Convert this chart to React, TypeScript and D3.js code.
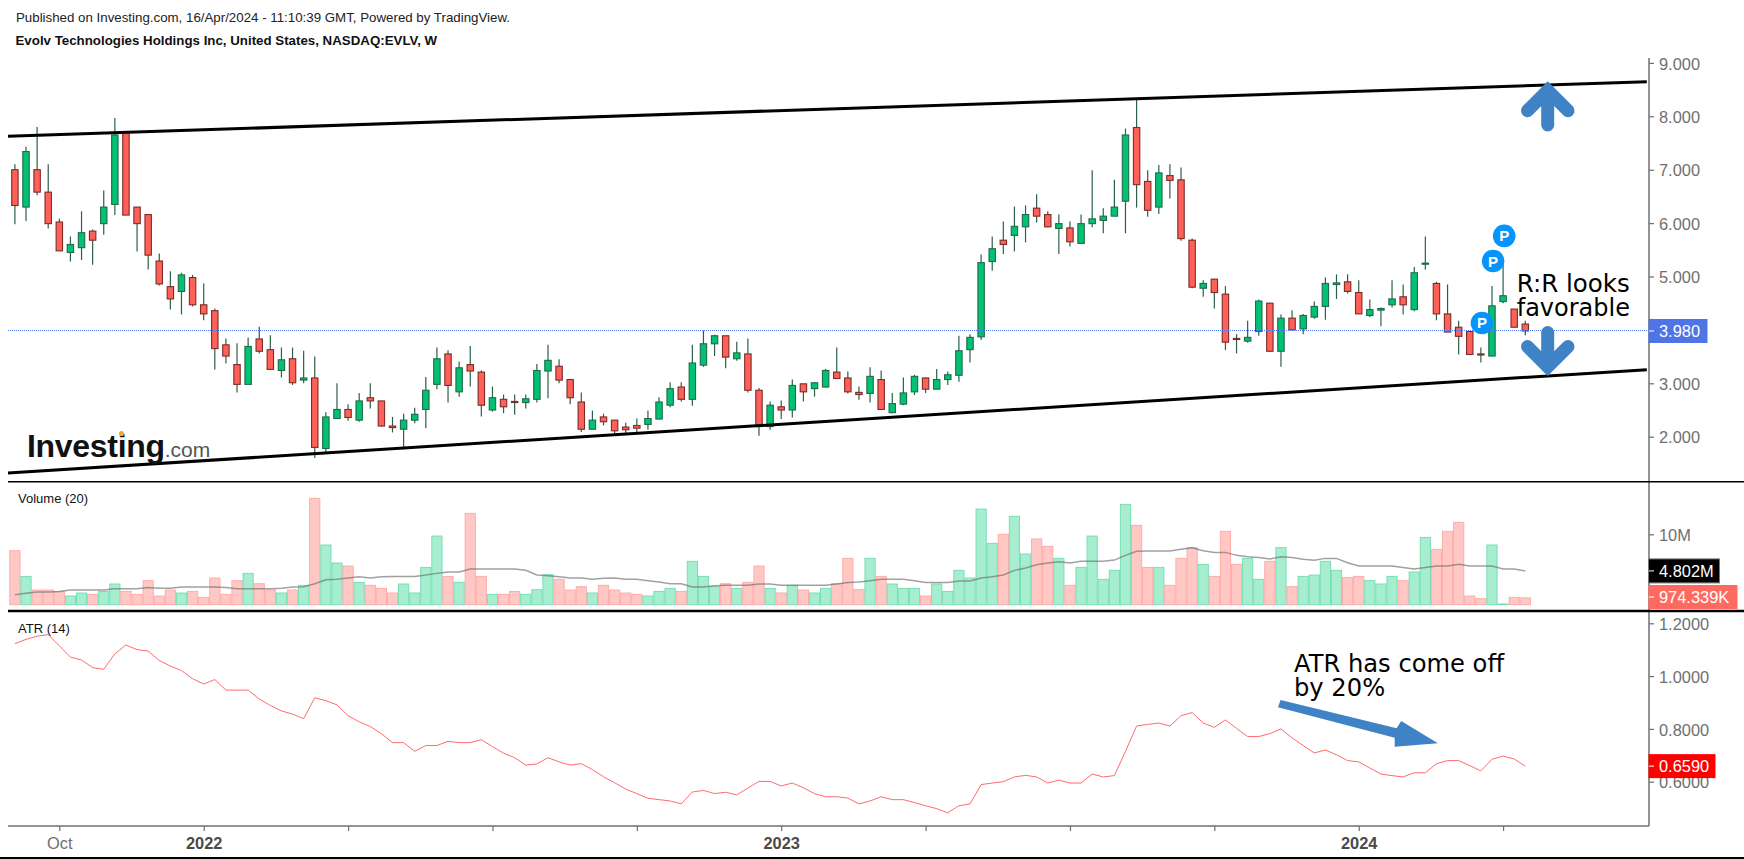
import * as d3 from "d3";
import { useEffect, useRef } from "react";

const opens = [
    7.00,6.30,7.00,6.58,6.02,5.45,5.54,5.85,5.99,6.35,
    7.71,6.30,6.16,5.29,4.81,4.72,4.98,4.47,4.36,3.72,
    3.35,2.98,3.83,3.63,3.24,3.46,3.06,3.10,1.78,2.34,
    2.51,2.31,2.73,2.67,2.20,2.14,2.31,2.51,2.98,3.55,
    2.84,3.35,3.21,2.50,2.70,2.66,2.64,2.70,3.23,3.32,
    3.07,2.65,2.14,2.37,2.31,2.18,2.21,2.23,2.33,2.59,
    2.93,2.70,3.34,3.74,3.89,3.46,3.55,2.87,2.19,2.56,
    2.50,2.99,2.90,2.93,3.21,3.10,2.83,2.81,3.07,2.45,
    2.61,2.84,3.10,2.89,3.07,3.15,3.63,3.87,5.28,5.68,
    5.77,5.93,6.28,6.16,5.90,5.91,5.62,5.99,6.05,6.13,
    6.41,7.79,6.78,6.30,6.89,6.81,5.68,4.78,4.95,4.67,
    3.84,3.79,3.97,4.50,3.60,4.22,4.02,4.24,4.44,4.85,
    4.90,4.70,4.27,4.37,4.47,4.62,4.38,5.23,4.87,4.30,
    4.05,3.97,3.55,3.51,4.53,4.39,4.11,
];
const closes = [
    6.33,7.34,6.58,5.99,5.48,5.60,5.82,5.68,6.30,7.65,
    6.15,5.99,5.40,4.86,4.58,5.03,4.47,4.30,3.65,3.51,
    2.98,3.69,3.60,3.26,3.44,3.01,3.10,1.80,2.37,2.51,
    2.36,2.67,2.67,2.20,2.17,2.31,2.42,2.87,3.46,2.96,
    3.29,3.23,2.59,2.73,2.56,2.64,2.71,3.24,3.43,3.06,
    2.73,2.14,2.31,2.28,2.11,2.13,2.16,2.34,2.65,2.90,
    2.70,3.38,3.74,3.89,3.49,3.57,2.87,2.19,2.59,2.50,
    2.96,2.84,3.01,3.24,3.09,2.84,2.79,3.13,2.51,2.62,
    2.82,3.13,2.89,3.07,3.16,3.61,3.86,5.26,5.52,5.60,
    5.94,6.16,6.13,5.93,5.99,5.65,5.99,6.08,6.13,6.30,
    7.65,6.72,6.24,6.94,6.80,5.71,4.80,4.87,4.70,3.77,
    3.82,3.86,4.54,3.60,4.22,4.00,4.27,4.44,4.87,4.88,
    4.72,4.30,4.38,4.40,4.58,4.47,5.07,5.25,4.30,3.96,
    3.88,3.54,3.53,4.45,4.64,4.05,3.98,
];
const highs = [
    7.10,7.43,7.80,7.10,6.08,5.75,6.22,5.88,6.61,7.97,
    7.71,6.30,6.16,5.43,5.10,5.07,5.03,4.87,4.40,3.84,
    3.75,3.86,4.06,3.90,3.67,3.67,3.61,3.50,2.46,3.00,
    2.61,2.82,3.00,2.67,2.37,2.43,2.54,3.12,3.67,3.62,
    3.41,3.70,3.24,2.94,2.79,2.79,2.79,3.36,3.72,3.45,
    3.07,2.83,2.49,2.43,2.31,2.26,2.34,2.49,2.74,3.02,
    3.02,3.72,3.99,3.91,3.89,3.78,3.84,2.91,2.66,2.68,
    3.07,2.99,3.02,3.27,3.67,3.22,2.94,3.30,3.24,2.82,
    3.11,3.16,3.11,3.27,3.22,3.89,3.92,5.41,5.75,6.03,
    6.31,6.33,6.54,6.22,6.16,6.03,6.16,6.99,6.28,6.81,
    7.77,8.31,6.99,7.09,7.10,7.04,5.71,4.93,4.96,4.82,
    3.92,4.17,4.57,4.51,4.29,4.37,4.30,4.53,4.98,5.04,
    5.04,4.93,4.57,4.42,4.93,4.85,5.18,5.75,4.90,4.85,
    4.17,3.97,3.67,4.82,5.30,4.39,4.17,
];
const lows = [
    5.98,6.04,6.52,5.90,5.48,5.28,5.31,5.22,5.78,6.15,
    6.15,5.47,5.13,4.83,4.38,4.29,4.44,4.18,3.26,3.37,
    2.83,2.98,3.56,3.26,3.11,2.97,3.00,1.60,1.69,2.33,
    2.30,2.28,2.53,2.19,2.08,1.76,2.25,2.16,2.89,2.64,
    2.75,2.94,2.38,2.47,2.44,2.41,2.53,2.64,2.72,3.00,
    2.61,2.09,2.14,2.21,2.04,2.03,2.04,2.13,2.33,2.55,
    2.66,2.58,3.31,3.51,3.28,3.42,2.83,2.02,2.13,2.33,
    2.36,2.66,2.75,2.92,3.08,2.81,2.69,2.64,2.50,2.44,
    2.59,2.78,2.82,2.89,2.97,3.03,3.39,3.81,5.11,5.42,
    5.47,5.64,6.01,5.92,5.42,5.56,5.62,5.92,5.81,6.13,
    5.81,6.29,6.12,6.17,6.46,5.67,4.78,4.62,4.40,3.62,
    3.56,3.76,3.89,3.60,3.31,4.00,3.92,4.21,4.19,4.58,
    4.68,4.30,4.24,4.07,4.42,4.29,4.35,5.13,4.18,3.96,
    3.54,3.53,3.39,3.51,4.50,4.05,3.90,
];
// volume in millions
const volumes = [
    7.67,4.02,2.08,2.08,1.85,1.23,1.66,1.47,1.89,2.94,
    1.89,1.47,3.41,1.23,2.08,1.66,1.89,1.04,3.79,1.47,
    3.41,4.45,2.98,2.08,1.66,2.08,2.75,15.10,8.48,5.92,
    5.49,3.17,2.75,2.32,1.66,2.94,1.66,5.30,9.75,4.02,
    3.17,12.97,4.02,1.47,1.47,1.89,1.47,2.13,4.26,3.60,
    2.08,2.56,1.66,2.75,2.08,1.66,1.47,1.23,1.89,2.32,
    1.89,6.16,4.02,2.56,2.98,2.32,3.17,5.49,2.32,1.66,
    2.75,2.08,1.66,2.32,2.98,6.58,2.13,6.58,4.02,2.94,
    2.32,2.32,1.23,2.94,1.89,4.88,3.79,13.59,8.71,9.99,
    12.55,7.20,9.33,8.29,6.58,2.75,5.30,9.75,3.60,4.88,
    14.25,11.27,5.30,5.30,2.75,6.58,8.10,5.73,4.02,10.42,
    5.73,6.58,3.60,6.16,8.10,2.56,4.02,4.21,6.16,4.88,
    3.84,4.02,3.41,2.94,4.02,3.41,4.64,9.56,7.86,10.42,
    11.69,1.23,0.85,8.48,0.10,1.04,0.97,
];
const volumeMa = [
    1.42,1.61,1.80,1.80,1.89,2.08,2.08,2.08,2.08,2.27,
    2.27,2.27,2.46,2.32,2.32,2.51,2.51,2.51,2.51,2.46,
    2.27,2.27,2.27,2.27,2.32,2.51,2.56,2.98,3.55,3.60,
    3.79,3.98,3.79,3.98,4.02,4.02,4.02,4.21,4.45,4.64,
    4.64,5.07,5.07,5.07,5.07,5.07,4.88,4.21,4.12,3.98,
    3.79,3.79,3.60,3.74,3.79,3.60,3.60,3.41,3.22,2.98,
    2.98,2.51,2.51,2.70,2.75,2.75,2.75,2.94,2.94,2.75,
    2.75,2.75,2.75,2.75,2.94,3.17,3.22,3.41,3.60,3.60,
    3.60,3.41,3.17,3.17,3.17,3.36,3.36,3.79,3.98,4.21,
    4.88,5.21,5.68,5.92,6.11,5.92,6.16,6.16,6.16,6.34,
    7.01,7.58,7.62,7.62,7.62,7.86,8.10,7.67,7.43,7.43,
    7.01,6.82,6.72,6.49,6.82,6.72,6.44,6.30,6.58,6.58,
    5.97,5.49,5.49,5.49,5.49,5.30,5.07,5.30,5.49,5.49,
    5.73,5.49,5.49,5.49,5.07,5.07,4.80,
];
const atr = [
    1.123,1.139,1.151,1.157,1.115,1.072,1.061,1.032,1.026,1.084,
    1.118,1.100,1.095,1.059,1.038,1.021,0.990,0.970,0.987,0.947,
    0.947,0.947,0.913,0.889,0.868,0.856,0.839,0.918,0.907,0.891,
    0.850,0.827,0.809,0.782,0.748,0.748,0.715,0.737,0.737,0.753,
    0.748,0.748,0.759,0.733,0.708,0.691,0.663,0.667,0.691,0.675,
    0.663,0.668,0.646,0.619,0.596,0.572,0.555,0.537,0.532,0.527,
    0.516,0.561,0.567,0.555,0.560,0.550,0.576,0.601,0.601,0.584,
    0.595,0.577,0.555,0.543,0.543,0.538,0.516,0.527,0.543,0.532,
    0.532,0.521,0.509,0.498,0.482,0.509,0.516,0.589,0.595,0.600,
    0.618,0.624,0.618,0.595,0.606,0.595,0.595,0.629,0.618,0.623,
    0.715,0.811,0.817,0.822,0.811,0.850,0.862,0.822,0.806,0.834,
    0.802,0.771,0.771,0.782,0.800,0.766,0.737,0.709,0.720,0.702,
    0.680,0.675,0.652,0.629,0.623,0.618,0.634,0.634,0.668,0.680,
    0.680,0.661,0.641,0.685,0.697,0.686,0.659,
];

const priceTicks = [2, 3, 5, 6, 7, 8, 9];
const volumeTicks = [10];
const atrTicks = [0.6, 0.8, 1.0, 1.2];
const timeTicks = [4, 17, 30, 43, 56, 69, 82, 95, 108, 121, 134];
const timeLabels = ["Oct", "2022", "", "", "", "2023", "", "", "", "2024", ""];

// channel drawn on the chart: [bar index, price]
const channelUpper = [[-0.62, 7.625], [146.94, 8.648]];
const channelLower = [[-0.62, 1.32], [146.94, 3.255]];

const lastPrice = 3.98;
const lastVolume = "974.339K";
const lastVolumeMa = "4.802M";
const lastAtr = "0.6590";

// "P" event markers: [bar index, price]
const markers = [[132.1, 4.13], [133.1, 5.29], [134.1, 5.76]];

const SANS = "'Liberation Sans', Arial, sans-serif";
const NOTE = "'DejaVu Sans', Verdana, sans-serif";
const AXIS_X = 1649;

function drawChart(el: SVGSVGElement) {
    const svg = d3.select(el);
    svg.selectAll("*").remove();

    const x = d3.scaleLinear().domain([0, 136]).range([14.9, 1525.3]);
    const y = d3.scaleLinear().domain([2, 9]).range([436.7, 62.9]);
    const vy = d3.scaleLinear().domain([0, 10]).range([604.7, 534.3]);
    const ay = d3.scaleLinear().domain([0.6, 1.2]).range([781.7, 623.3]);

    const bars = d3.range(opens.length);
    const isDown = (i: number) => closes[i] < opens[i];

    // volume pane
    svg.append("g")
        .selectAll("rect")
        .data(bars)
        .join("rect")
        .attr("x", (i) => x(i) - 5.1)
        .attr("width", 10.2)
        .attr("y", (i) => vy(volumes[i]))
        .attr("height", (i) => vy(0) - vy(volumes[i]))
        .attr("fill", (i) => (isDown(i) ? "#ffc8c5" : "#a6eecf"))
        .attr("stroke", (i) => (isDown(i) ? "#ffaca8" : "#78dfb5"))
        .attr("stroke-width", 1);

    svg.append("path")
        .attr(
            "d",
            d3
                .line<number>()
                .x((i) => x(i))
                .y((i) => vy(volumeMa[i]))(bars)
        )
        .attr("fill", "none")
        .attr("stroke", "#6e6e6e")
        .attr("stroke-opacity", 0.65)
        .attr("stroke-width", 1.5);

    // candles
    svg.append("g")
        .selectAll("line")
        .data(bars)
        .join("line")
        .attr("x1", (i) => x(i))
        .attr("x2", (i) => x(i))
        .attr("y1", (i) => y(highs[i]))
        .attr("y2", (i) => y(lows[i]))
        .attr("stroke", "#2b5f49")
        .attr("stroke-width", 1.2);

    svg.append("g")
        .selectAll("rect")
        .data(bars)
        .join("rect")
        .attr("x", (i) => x(i) - 3.2)
        .attr("width", 6.4)
        .attr("y", (i) => y(Math.max(opens[i], closes[i])))
        .attr("height", (i) =>
            Math.max(0.6, Math.abs(y(opens[i]) - y(closes[i])))
        )
        .attr("fill", (i) => (isDown(i) ? "#ff6159" : "#00c272"))
        .attr("stroke", (i) => (isDown(i) ? "#7c2b27" : "#1f6a4a"))
        .attr("stroke-width", 1.1);

    // last price line
    const lastY = Math.floor(y(lastPrice)) + 0.5;
    svg.append("line")
        .attr("x1", 8)
        .attr("x2", AXIS_X)
        .attr("y1", lastY)
        .attr("y2", lastY)
        .attr("stroke", "#4d73e8")
        .attr("stroke-width", 1)
        .attr("stroke-dasharray", "1 1");

    // channel
    [channelUpper, channelLower].forEach((c) => {
        svg.append("line")
            .attr("x1", x(c[0][0]))
            .attr("y1", y(c[0][1]))
            .attr("x2", x(c[1][0]))
            .attr("y2", y(c[1][1]))
            .attr("stroke", "#000")
            .attr("stroke-width", 3);
    });

    // ATR pane
    svg.append("path")
        .attr(
            "d",
            d3
                .line<number>()
                .x((i) => x(i))
                .y((i) => ay(atr[i]))(bars)
        )
        .attr("fill", "none")
        .attr("stroke", "#ff6b6f")
        .attr("stroke-width", 1);

    // event markers
    const mark = svg
        .append("g")
        .selectAll("g")
        .data(markers)
        .join("g")
        .attr("transform", (d) => `translate(${x(d[0])},${y(d[1])})`);
    mark.append("circle").attr("r", 11.3).attr("fill", "#0494fb");
    mark.append("text")
        .attr("text-anchor", "middle")
        .attr("y", 5.5)
        .style("font-family", SANS)
        .style("font-size", "15px")
        .style("font-weight", "bold")
        .style("fill", "#fff")
        .text("P");

    // arrows
    const blue = "#3f82c6";
    svg.append("path")
        .attr("d", "M1527.5 110.7 L1547.7 90.5 L1568 110.7 M1547.7 90.5 L1547.7 125")
        .attr("fill", "none")
        .attr("stroke", blue)
        .attr("stroke-width", 13)
        .attr("stroke-linecap", "round");
    svg.append("path")
        .attr("d", "M1527.5 346.6 L1547.7 366.8 L1568 346.6 M1547.7 366.8 L1547.7 332.5")
        .attr("fill", "none")
        .attr("stroke", blue)
        .attr("stroke-width", 13)
        .attr("stroke-linecap", "round");
    svg.append("path")
        .attr(
            "d",
            "M1280.6 700 L1396.6 728.3 L1401.2 721 L1437.9 743.3 L1394.7 746.7 L1394.7 737.7 L1278 707.3 Z"
        )
        .attr("fill", blue);

    // frame lines
    const lineColor = "#6f6f6f";
    svg.append("line")
        .attr("x1", AXIS_X)
        .attr("x2", AXIS_X)
        .attr("y1", 58)
        .attr("y2", 826)
        .attr("stroke", lineColor)
        .attr("stroke-width", 1.5);
    svg.append("line")
        .attr("x1", 8)
        .attr("x2", AXIS_X)
        .attr("y1", 826)
        .attr("y2", 826)
        .attr("stroke", lineColor)
        .attr("stroke-width", 1.5);
    svg.append("line")
        .attr("x1", 8)
        .attr("x2", 1744)
        .attr("y1", 481.7)
        .attr("y2", 481.7)
        .attr("stroke", "#000")
        .attr("stroke-width", 1.5);
    svg.append("line")
        .attr("x1", 8)
        .attr("x2", 1744)
        .attr("y1", 611)
        .attr("y2", 611)
        .attr("stroke", "#000")
        .attr("stroke-width", 2.5);
    svg.append("rect")
        .attr("x", 0)
        .attr("y", 857)
        .attr("width", 1744)
        .attr("height", 2)
        .attr("fill", "#000");

    // axes
    const styleAxis = (g: any) => {
        g.select(".domain").remove();
        g.selectAll("line").attr("stroke", lineColor).attr("stroke-width", 1.2);
        g.selectAll("text")
            .style("font-family", SANS)
            .style("font-size", "16.4px")
            .style("fill", "#6f6f6f");
    };
    const nudge = (g: any) => g.selectAll("text").attr("dy", "0.38em");

    svg.append("g")
        .attr("transform", `translate(${AXIS_X},0)`)
        .call(
            d3
                .axisRight(y)
                .tickValues(priceTicks)
                .tickSize(5)
                .tickPadding(5)
                .tickFormat(d3.format(".3f") as any)
        )
        .call(styleAxis)
        .call(nudge);
    svg.append("g")
        .attr("transform", `translate(${AXIS_X},0)`)
        .call(
            d3
                .axisRight(vy)
                .tickValues(volumeTicks)
                .tickSize(5)
                .tickPadding(5)
                .tickFormat((d) => `${d}M`)
        )
        .call(styleAxis)
        .call(nudge);
    svg.append("g")
        .attr("transform", `translate(${AXIS_X},0)`)
        .call(
            d3
                .axisRight(ay)
                .tickValues(atrTicks)
                .tickSize(5)
                .tickPadding(5)
                .tickFormat(d3.format(".4f") as any)
        )
        .call(styleAxis)
        .call(nudge);

    const timeAxis = svg
        .append("g")
        .attr("transform", "translate(0,826)")
        .call(
            d3
                .axisBottom(x)
                .tickValues(timeTicks)
                .tickSize(5)
                .tickPadding(6)
                .tickFormat((_, i) => timeLabels[i])
        )
        .call(styleAxis);
    timeAxis
        .selectAll("text")
        .style("font-weight", (_, i) => (i === 0 ? "normal" : "bold"))
        .style("fill", (_, i) => (i === 0 ? "#6f6f6f" : "#4a4a4a"));

    // value labels on the axis
    const tag = (
        value: number,
        text: string,
        fill: string,
        width: number,
        stroke?: string
    ) => {
        svg.append("rect")
            .attr("x", AXIS_X - 0.5)
            .attr("y", value - 12)
            .attr("width", width)
            .attr("height", 24)
            .attr("fill", fill)
            .attr("stroke", stroke || "none");
        svg.append("line")
            .attr("x1", AXIS_X)
            .attr("x2", AXIS_X + 5)
            .attr("y1", value)
            .attr("y2", value)
            .attr("stroke", "#fff")
            .attr("stroke-width", 1);
        svg.append("text")
            .attr("x", AXIS_X + 10)
            .attr("y", value + 6)
            .style("font-family", SANS)
            .style("font-size", "16.4px")
            .style("fill", "#fff")
            .text(text);
    };
    tag(y(lastPrice), lastPrice.toFixed(3), "#4f74e6", 59);
    tag(vy(volumeMa[volumeMa.length - 1]), lastVolumeMa, "#000000", 71, "#777");
    tag(597, lastVolume, "#ff6a60", 89);
    tag(ay(0.659), lastAtr, "#ff0000", 67);

    // titles
    svg.append("text")
        .attr("x", 16)
        .attr("y", 22)
        .style("font-family", SANS)
        .style("font-size", "13.3px")
        .style("fill", "#222")
        .text(
            "Published on Investing.com, 16/Apr/2024 - 11:10:39 GMT, Powered by TradingView."
        );
    svg.append("text")
        .attr("x", 15.5)
        .attr("y", 45)
        .style("font-family", SANS)
        .style("font-size", "13.3px")
        .style("font-weight", "bold")
        .style("fill", "#111")
        .text("Evolv Technologies Holdings Inc, United States, NASDAQ:EVLV, W");

    // pane labels
    svg.append("text")
        .attr("x", 18)
        .attr("y", 502.7)
        .style("font-family", SANS)
        .style("font-size", "13px")
        .style("fill", "#111")
        .text("Volume (20)");
    svg.append("text")
        .attr("x", 18)
        .attr("y", 633)
        .style("font-family", SANS)
        .style("font-size", "13px")
        .style("fill", "#111")
        .text("ATR (14)");

    // notes
    const note = (tx: number, ty: number, text: string, size: number) => {
        svg.append("text")
            .attr("x", tx)
            .attr("y", ty)
            .style("font-family", NOTE)
            .style("font-size", `${size}px`)
            .style("fill", "#000")
            .text(text);
    };
    note(1516.7, 291.7, "R:R looks", 24.5);
    note(1516.7, 315.7, "favorable", 24);
    note(1294, 671.7, "ATR has come off", 24.2);
    note(1294, 696, "by 20%", 24.2);

    // watermark
    const logo = svg
        .append("text")
        .attr("x", 27)
        .attr("y", 456.5)
        .style("font-family", SANS);
    logo.append("tspan")
        .style("font-size", "32px")
        .style("font-weight", "bold")
        .style("letter-spacing", "-0.3px")
        .style("fill", "#111")
        .text("Investing");
    logo.append("tspan")
        .style("font-size", "21px")
        .style("fill", "#555")
        .text(".com");
    svg.append("circle")
        .attr("cx", 121.5)
        .attr("cy", 433.5)
        .attr("r", 2.6)
        .attr("fill", "#f6a623");
}

export default function App() {
    const chartRef = useRef<SVGSVGElement | null>(null);

    useEffect(() => {
        if (chartRef.current) drawChart(chartRef.current);
    }, []);

    return (
        <svg
            ref={chartRef}
            width={1744}
            height={859}
            style={{ position: "absolute", left: 0, top: 0, background: "#fff" }}
        ></svg>
    );
}
